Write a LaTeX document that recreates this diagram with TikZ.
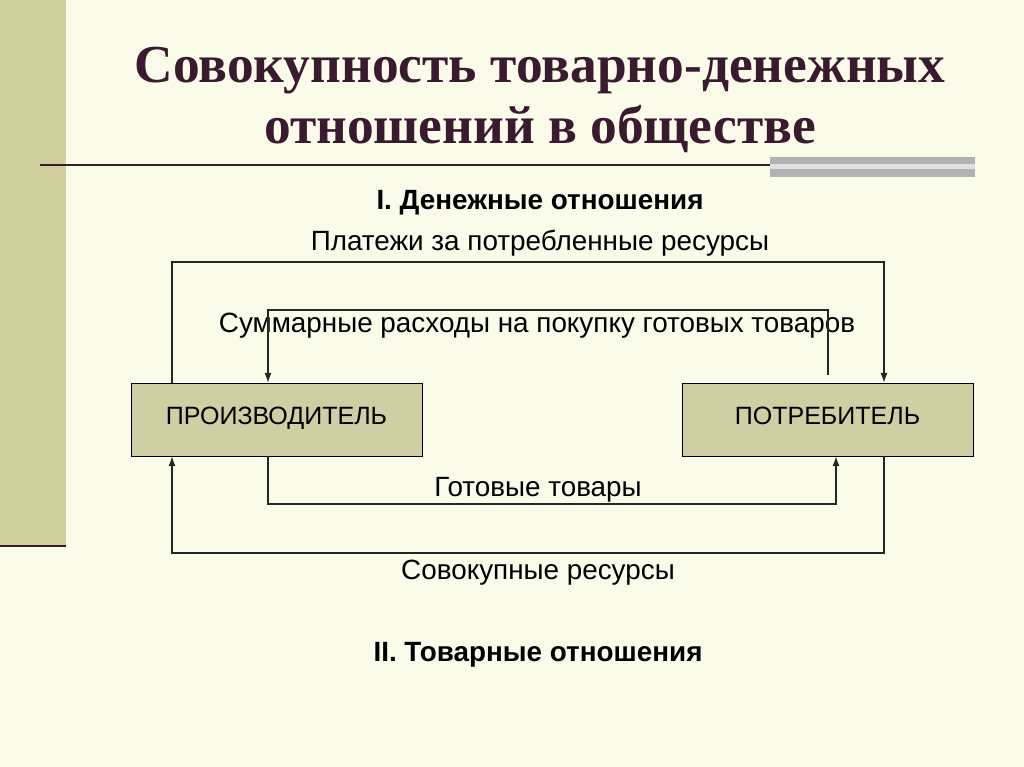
\documentclass[tikz,border=0pt]{standalone}
\usepackage{fontspec}
\setmainfont{Liberation Sans}
\newfontfamily\titlefont{Liberation Serif}
\begin{document}
\begin{tikzpicture}[x=0.025cm,y=-0.025cm,
  box/.style={draw=black,fill=boxc,minimum width=291*0.025cm,minimum height=73*0.025cm,text height=1.5ex,text depth=0.25ex,font=\fontsize{17.8}{20}\selectfont},
  lbl/.style={font=\fontsize{19.8}{22}\selectfont},
  bl/.style={font=\bfseries\fontsize{19.8}{22}\selectfont},
  conn/.style={draw=black!85,line width=0.9pt},
  arr/.style={conn,-{Latex[length=7pt,width=5pt]}}]
\usetikzlibrary{arrows.meta}
\definecolor{bg}{HTML}{FBFBEA}
\definecolor{band}{HTML}{CFCF9E}
\definecolor{boxc}{HTML}{CFCFA3}
\definecolor{dark}{HTML}{3A1A2E}
\useasboundingbox (0,0) rectangle (1024,767);
\fill[bg] (0,0) rectangle (1024,767);
\fill[band] (0,0) rectangle (66,545);
\draw[dark,line width=2pt] (0,546) -- (66,546);
\draw[dark,line width=1.2pt] (40,165) -- (975,165);
\fill[black!30] (770,157) rectangle (975,177);
\fill[black!12] (770,164) rectangle (975,169);
\node[font=\titlefont\bfseries\fontsize{38}{43}\selectfont,text=dark,align=center] (t) at (540,100) {Совокупность товарно-денежных\\отношений в обществе};
\node[box] (p) at (276.5,419.5) {ПРОИЗВОДИТЕЛЬ};
\node[box] (c) at (827.5,419.5) {ПОТРЕБИТЕЛЬ};
\node[bl] (h1) at (540,203) {I. Денежные отношения};
\node[lbl] (l1) at (540,243) {Платежи за потребленные ресурсы};
\node[lbl] (l2) at (537,326) {Суммарные расходы на покупку готовых товаров};
\node[lbl] (l3) at (538,490) {Готовые товары};
\node[lbl] (l4) at (538,573) {Совокупные ресурсы};
\node[bl] (h2) at (538,655) {II. Товарные отношения};
\draw[arr] (p.north -| 172,0) -- (172,262) -- (884,262) -- (c.north -| 884,0);
\draw[arr] (828,375) -- (828,310) -- (268,310) -- (p.north -| 268,0);
\draw[arr] (p.south -| 268,0) -- (268,504) -- (836,504) -- (c.south -| 836,0);
\draw[arr] (c.south -| 884,0) -- (884,553) -- (172,553) -- (p.south -| 172,0);
\end{tikzpicture}
\end{document}
